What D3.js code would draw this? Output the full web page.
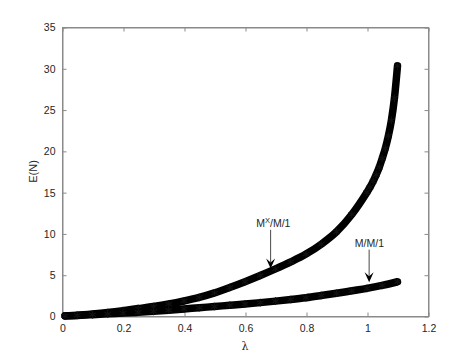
<!DOCTYPE html>
<html><head><meta charset="utf-8">
<script src="https://cdn.jsdelivr.net/npm/d3@7"></script>
<style>
html,body{margin:0;padding:0;background:#fff;}
svg{display:block;font-family:"Liberation Sans",Arial,sans-serif;}
</style></head>
<body>
<svg id="chart" width="474" height="355"></svg>
<script>
// ---- data ----
const lambdaMX = [0.01,0.05,0.10,0.15,0.20,0.25,0.30,0.35,0.40,0.45,0.50,0.55,0.60,0.65,0.70,0.75,0.80,0.85,0.90,0.95,1.00,1.01,1.02,1.03,1.04,1.05,1.06,1.07,1.08,1.09,1.10];
const valuesMX = [0.02,0.10,0.25,0.43,0.65,0.90,1.15,1.45,1.82,2.25,2.80,3.45,4.15,4.90,5.70,6.55,7.50,8.70,10.2,12.3,15.0,15.6,16.3,17.1,18.0,19.1,20.3,21.8,23.7,26.4,30.3];
const lambdaMM = [0.01,0.05,0.10,0.15,0.20,0.25,0.30,0.35,0.40,0.45,0.50,0.55,0.60,0.65,0.70,0.75,0.80,0.85,0.90,0.95,1.00,1.05,1.10];
const valuesMM = [0.01,0.07,0.16,0.26,0.35,0.45,0.56,0.70,0.85,1.00,1.15,1.30,1.45,1.62,1.80,2.00,2.22,2.48,2.75,3.05,3.35,3.70,4.15];
const xTicks = [0,0.2,0.4,0.6,0.8,1,1.2];
const yTicks = [0,5,10,15,20,25,30,35];
const xTickLabels = ["0","0.2","0.4","0.6","0.8","1","1.2"];
const yTickLabels = ["0","5","10","15","20","25","30","35"];

const svg = d3.select("#chart");
const L = 62, R = 428, T = 27, B = 316;
const x = d3.scaleLinear().domain([0,1.2]).range([L,R]);
const y = d3.scaleLinear().domain([0,35]).range([B,T]);

const axisCol = "#8a8a8a", textCol = "#262626";

// box
svg.append("rect").attr("x",L+0.5).attr("y",T+0.5).attr("width",R-L).attr("height",B-T)
  .attr("fill","none").attr("stroke",axisCol).attr("stroke-width",1);

// axes (ticks inside)
const xAxB = d3.axisBottom(x).tickValues(xTicks).tickSizeInner(-4).tickSizeOuter(0).tickPadding(8)
  .tickFormat((d,i)=>xTickLabels[i]);
const gx = svg.append("g").attr("transform",`translate(0.5,${B+0.5})`).call(xAxB);
const xAxT = d3.axisTop(x).tickValues(xTicks).tickSizeInner(-4).tickSizeOuter(0).tickFormat("");
const gxt = svg.append("g").attr("transform",`translate(0.5,${T+0.5})`).call(xAxT);
const yAxL = d3.axisLeft(y).tickValues(yTicks).tickSizeInner(-4).tickSizeOuter(0).tickPadding(7)
  .tickFormat((d,i)=>yTickLabels[i]);
const gy = svg.append("g").attr("transform",`translate(${L+0.5},0.5)`).call(yAxL);
const yAxR = d3.axisRight(y).tickValues(yTicks).tickSizeInner(-4).tickSizeOuter(0).tickFormat("");
const gyr = svg.append("g").attr("transform",`translate(${R+0.5},0.5)`).call(yAxR);
[gx,gxt,gy,gyr].forEach(g=>{
  g.select(".domain").attr("stroke",axisCol);
  g.selectAll(".tick line").attr("stroke",axisCol);
  g.selectAll(".tick text").attr("fill",textCol).attr("font-size",10.5)
    .attr("font-family","\"Liberation Sans\",Arial,sans-serif");
});

// axis labels
svg.append("text").attr("x",(L+R)/2).attr("y",350).attr("text-anchor","middle")
  .attr("font-family","\"DejaVu Serif\",serif").attr("font-size",11).attr("fill",textCol).text("λ");
svg.append("text").attr("transform",`translate(37,${(T+B)/2}) rotate(-90)`).attr("text-anchor","middle")
  .attr("font-size",11).attr("fill",textCol).text("E(N)");

// curves
const line = d3.line().x(d=>x(d[0])).y(d=>y(d[1])).curve(d3.curveMonotoneX);
const seriesMX = lambdaMX.map((l,i)=>[l,valuesMX[i]]);
const seriesMM = lambdaMM.map((l,i)=>[l,valuesMM[i]]);
const plot = svg.append("g");
[seriesMX, seriesMM].forEach(s=>{
  plot.append("path").attr("d",line(s)).attr("fill","none").attr("stroke","#000")
    .attr("stroke-width",7.5).attr("stroke-linecap","round").attr("stroke-linejoin","round");
  plot.selectAll(null).data(s).enter().append("path")
    .attr("transform",d=>`translate(${x(d[0])},${y(d[1])})`)
    .attr("d",d3.symbol(d3.symbolAsterisk, 40)())
    .attr("fill","none").attr("stroke","#111").attr("stroke-width",1.2);
});

// annotations
function arrow(lx, ly, tipL, tipE, labelFn){
  const tx = x(tipL), ty = y(tipE);
  const t = svg.append("text").attr("x",x(lx)).attr("y",y(ly)).attr("text-anchor","middle")
    .attr("font-size",10.5).attr("fill",textCol);
  labelFn(t);
  svg.append("line").attr("x1",tx).attr("x2",tx).attr("y1",y(ly)+3).attr("y2",ty-6)
    .attr("stroke","#333").attr("stroke-width",0.9);
  svg.append("path").attr("d",`M${tx},${ty} L${tx-4.5},${ty-10} L${tx},${ty-6} L${tx+4.5},${ty-10} Z`)
    .attr("fill","#000");
}
arrow(0.693, 10.8, 0.684, 5.75, t=>{
  t.append("tspan").text("M");
  t.append("tspan").attr("dy",-4).attr("font-size",7.5).text("X");
  t.append("tspan").attr("dy",4).text("/M/1");
});
arrow(1.008, 8.4, 1.007, 4.1, t=>t.text("M/M/1"));
</script>
</body></html>
